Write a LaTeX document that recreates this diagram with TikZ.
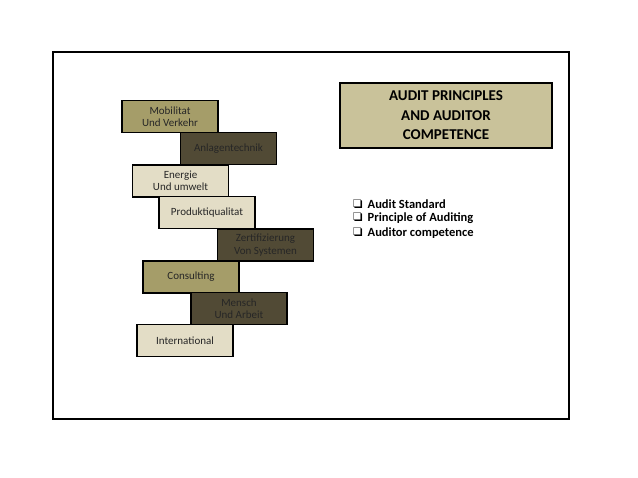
\documentclass[tikz,border=0pt]{standalone}
\usepackage{fontspec}
\setmainfont{Carlito}
\usepackage{pifont}
\usetikzlibrary{positioning}
\definecolor{olive}{HTML}{A59D69}
\definecolor{darkolive}{HTML}{514A35}
\definecolor{cream}{HTML}{E3DDC6}
\definecolor{titlefill}{HTML}{C9C29A}
\tikzset{
  block/.style={draw=black, line width=1.2pt, minimum width=96pt, minimum height=32pt,
    inner sep=0pt, align=center, font=\fontsize{11pt}{12.5pt}\selectfont, text=black!85},
  point/.style={anchor=west, inner sep=0pt, font=\bfseries\fontsize{12.5pt}{14pt}\selectfont}
}
\begin{document}
\begin{tikzpicture}[x=1pt, y=-1pt]
    \useasboundingbox (0,0) rectangle (638,478);
    \fill[white] (0,0) rectangle (638,478);
    \draw[line width=1.2pt] (53,52) rectangle (569,419);

    % stacked blocks
    \node[block, fill=olive] (mob) at (170,116.5) {Mobilitat\\Und Verkehr};
    \node[block, fill=darkolive] (anl) at (228.5,148.5) {Anlagentechnik};
    \node[block, fill=cream] (ene) at (180.5,181) {Energie\\Und umwelt};
    \node[block, fill=cream] (pro) at (207,212.5) {Produktiqualitat};
    \node[block, fill=darkolive] (zer) at (265.5,245) {Zertifizierung\\Von Systemen};
    \node[block, fill=olive] (con) at (191,277) {Consulting};
    \node[block, fill=darkolive] (men) at (239,308.5) {Mensch\\Und Arbeit};
    \node[block, fill=cream] (int) at (185,340.5) {International};

    % title
    \node[draw=black, line width=1.2pt, fill=titlefill, minimum width=212pt, minimum height=65pt,
      align=center, font=\bfseries\fontsize{15pt}{19.5pt}\selectfont] (title) at (446,115.5)
      {AUDIT PRINCIPLES\\AND AUDITOR\\COMPETENCE};

    % bullet list
    \node[point] (p1) at (353,204) {\ding{113}\hspace{5pt}Audit Standard};
    \node[point, below=4pt of p1.south west, anchor=north west] (p2) {\ding{113}\hspace{5pt}Principle of Auditing};
    \node[point, below=4pt of p2.south west, anchor=north west] (p3) {\ding{113}\hspace{5pt}Auditor competence};
\end{tikzpicture}
\end{document}
